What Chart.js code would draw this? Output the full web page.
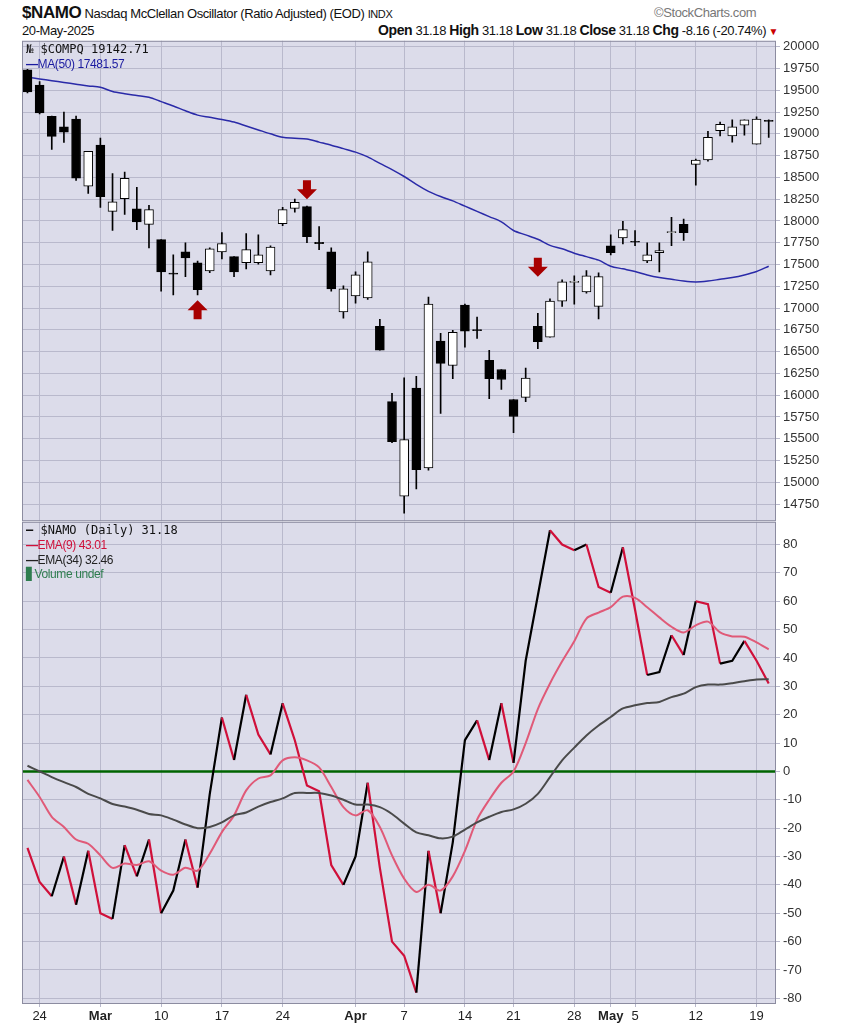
<!DOCTYPE html>
<html>
<head>
<meta charset="utf-8">
<script src="https://cdn.jsdelivr.net/npm/chart.js@4.4.0/dist/chart.umd.min.js"></script>
<style>
  body { margin: 0; background: #fff; width: 844px; height: 1024px; position: relative; overflow: hidden; font-family: "Liberation Sans", Arial, sans-serif; }
  .t { position: absolute; white-space: nowrap; color: #111; letter-spacing: -0.4px; }
  .mono { font-family: "DejaVu Sans Mono", monospace; font-size: 12px; letter-spacing: 0; }
  #c1 { position: absolute; left: 0; top: 30px; }
  #c2 { position: absolute; left: 0; top: 511px; }
</style>
</head>
<body>
<div class="t" style="left:22px;top:3px;font-size:13px;"><b style="font-size:17px;">$NAMO</b> Nasdaq McClellan Oscillator (Ratio Adjusted) (EOD) <span style="font-size:11px">INDX</span></div>
<div class="t" style="left:654px;top:5px;font-size:13px;color:#777;">&copy;StockCharts.com</div>
<div class="t" style="left:22px;top:23px;font-size:13px;">20-May-2025</div>
<div class="t" style="right:66px;top:22px;font-size:13px;"><b style="font-size:14px">Open</b> 31.18 <b style="font-size:14px">High</b> 31.18 <b style="font-size:14px">Low</b> 31.18 <b style="font-size:14px">Close</b> 31.18 <b style="font-size:14px">Chg</b> -8.16 (-20.74%)<span style="color:#c00;font-size:10px"> &#9660;</span></div>

<canvas id="c1" width="844" height="502"></canvas>
<canvas id="c2" width="844" height="513"></canvas>

<div class="t mono" style="left:26px;top:42px;">&#8470; $COMPQ 19142.71</div>
<div class="t" style="left:26px;top:57px;font-size:12px;color:#1a1aa0;"><b>&#8212;</b>MA(50) 17481.57</div>
<div class="t mono" style="left:26px;top:523px;"><b>&#8212;</b> $NAMO (Daily) 31.18</div>
<div class="t" style="left:26px;top:538px;font-size:12px;color:#d0103a;"><b>&#8212;</b>EMA(9) 43.01</div>
<div class="t" style="left:26px;top:553px;font-size:12px;color:#222;"><b>&#8212;</b>EMA(34) 32.46</div>
<div class="t" style="left:26px;top:567px;font-size:12px;color:#2e7d4f;">&#9611;Volume undef</div>

<script>
// trading days Feb 21 .. May 20 2025
const dates = ['Feb21','Feb24','Feb25','Feb26','Feb27','Feb28','Mar3','Mar4','Mar5','Mar6','Mar7',
  'Mar10','Mar11','Mar12','Mar13','Mar14','Mar17','Mar18','Mar19','Mar20','Mar21',
  'Mar24','Mar25','Mar26','Mar27','Mar28','Mar31','Apr1','Apr2','Apr3','Apr4',
  'Apr7','Apr8','Apr9','Apr10','Apr11','Apr14','Apr15','Apr16','Apr17',
  'Apr21','Apr22','Apr23','Apr24','Apr25','Apr28','Apr29','Apr30','May1','May2',
  'May5','May6','May7','May8','May9','May12','May13','May14','May15','May16','May19','May20'];

// $COMPQ candles
const openP  = [19735,19560,19200,19080,19170,18400,18870,18110,18255,18140,17960,17785,17400,17645,17520,17425,17645,17590,17520,17520,17425,17970,18145,18165,17755,17645,16955,17140,17115,16790,15925,14840,16080,15165,16620,16340,17035,16750,16400,16295,15950,15975,16790,16665,17080,17295,17185,17020,17715,17805,17765,17540,17635,17865,17960,18650,18700,19035,18975,19100,18880,19145];
const highP  = [19740,19600,19205,19250,19205,18800,18950,18545,18560,18385,18180,17785,17610,17750,17540,17690,17865,17590,17855,17840,17715,18155,18250,18170,17935,17690,17255,17415,17645,16870,16020,16200,16215,17125,16710,16745,17045,16895,16515,16295,15950,16310,16940,17105,17325,17370,17430,17405,17840,17995,17890,17750,17750,18040,18020,18710,19030,19135,19160,19160,19195,19160];
const lowP   = [19470,19230,18820,18900,18465,18315,18155,17890,18075,17900,17690,17195,17150,17360,17150,17405,17565,17360,17450,17505,17380,17945,18100,17750,17670,17195,16885,17055,17100,16515,15455,14645,14925,15140,15790,16190,16550,16650,15960,16065,15570,15925,16535,16665,17020,17045,17170,16875,17610,17735,17715,17520,17415,17715,17775,18410,18685,18975,18905,18985,18880,18960];
const closeP = [19480,19240,18970,19020,18490,18800,18280,18220,18490,17990,18130,17415,17390,17575,17210,17680,17740,17415,17670,17610,17700,18130,18215,17820,17740,17220,17220,17380,17530,16515,15465,15490,15145,17045,16365,16720,16735,16740,16190,16180,15755,16195,16615,17080,17300,17300,17370,17360,17635,17900,17755,17610,17660,17875,17865,18700,18960,19110,19080,19160,19170,19142.71];
const ma50 = [19650,19630,19610,19590,19570,19550,19535,19485,19460,19440,19420,19370,19320,19265,19215,19190,19165,19135,19090,19045,19000,18960,18950,18940,18905,18870,18830,18790,18735,18660,18590,18510,18420,18340,18280,18230,18170,18110,18050,17990,17890,17840,17790,17720,17680,17630,17590,17550,17480,17450,17420,17380,17350,17330,17310,17300,17310,17330,17350,17380,17420,17480];

// $NAMO and its EMAs
const namo = [-27,-39,-44,-30,-47,-28,-50,-52,-26,-37,-24,-50,-42,-24,-41,-8,19,4,27,13,6,24,11,-5,-7,-33,-40,-30,-4,-34,-60,-65,-78,-28,-50,-25,11,18,4,24,3,39,62,85,80,78,80,65,63,79,57,34,35,48,41,60,59,38,39,46,39,31];
const ema9 = [-3,-9,-16,-19.6,-24,-25.5,-29.6,-34,-32.5,-33,-31.7,-35,-36.4,-34,-35,-29,-21.4,-15.5,-6.7,-2.5,-1.4,3.9,5,3.9,1.4,-5.5,-12.6,-15.5,-13.7,-19.6,-29.6,-37.8,-42.5,-40,-42,-37,-28,-17,-10,-4,0,10,22,31,38.8,45.9,53.9,56,57.9,61.6,61.2,57.9,54.3,51,49,51.5,52.8,49,47.6,47.5,45.5,43];
const ema34 = [2,0,-2,-3.8,-5.5,-7.9,-9.5,-11.5,-12.4,-13.5,-15,-15.5,-17,-18.7,-20,-19.6,-18,-15.5,-14.5,-12.4,-10.8,-9.5,-7.6,-7.6,-7.6,-8.5,-10,-11.7,-11.7,-12.6,-15,-18.4,-21.5,-22.5,-23.6,-23,-20.5,-18,-16,-14.3,-13.4,-11.4,-7.9,-2,3.9,8.4,12.7,16.2,19.2,22.2,23.3,24.1,24.5,26.2,27.4,29.7,30.6,30.6,31.1,31.8,32.4,32.46];

// date axis labels: index -> text
const tickIdx  = [1,6,11,16,21,27,31,36,40,45,48,50,55,60];
const tickText = ['24','Mar','10','17','24','Apr','7','14','21','28','May','5','12','19'];
const boldTicks = ['Mar','Apr','May'];

// arrows: [index, value, direction]
const arrows = [[14,17090,'up'],[23,18250,'down'],[42,17360,'down']];

const BG = '#dcdcea';
const GRID = '#b9b9cc';
const RED = '#d0103a';

const bgPlugin = {
  id: 'bg',
  beforeDraw(chart) {
    const a = chart.chartArea, c = chart.ctx;
    c.save(); c.fillStyle = BG; c.fillRect(a.left, a.top, a.right - a.left, a.bottom - a.top); c.restore();
  },
  afterDraw(chart) {
    const a = chart.chartArea, c = chart.ctx;
    c.save(); c.strokeStyle = '#8c8ca0'; c.lineWidth = 1;
    c.strokeRect(a.left + 0.5, a.top + 0.5, a.right - a.left - 1, a.bottom - a.top - 1); c.restore();
  }
};

const arrowPlugin = {
  id: 'arrows',
  afterDatasetsDraw(chart) {
    const c = chart.ctx, xs = chart.scales.x, ys = chart.scales.y;
    c.save(); c.fillStyle = '#a80000';
    arrows.forEach(([i, v, d]) => {
      const x = xs.getPixelForValue(i), y = ys.getPixelForValue(v), s = d === 'up' ? 1 : -1;
      c.beginPath();
      c.moveTo(x, y);
      c.lineTo(x + 10, y + s * 10); c.lineTo(x + 4, y + s * 10); c.lineTo(x + 4, y + s * 19);
      c.lineTo(x - 4, y + s * 19); c.lineTo(x - 4, y + s * 10); c.lineTo(x - 10, y + s * 10);
      c.closePath(); c.fill();
    });
    c.restore();
  }
};

const zeroPlugin = {
  id: 'zero',
  beforeDatasetsDraw(chart) {
    const c = chart.ctx, a = chart.chartArea, y = chart.scales.y.getPixelForValue(0);
    c.save(); c.strokeStyle = '#006400'; c.lineWidth = 2.5;
    c.beginPath(); c.moveTo(a.left, y); c.lineTo(a.right, y); c.stroke(); c.restore();
  }
};

function xAxis(show) {
  return {
    type: 'linear', min: -0.45, max: 61.6, offset: false,
    afterBuildTicks: s => { s.ticks = tickIdx.map(v => ({ value: v })); },
    afterFit: s => { s.height = show ? 20 : 0; },
    ticks: {
      display: show, autoSkip: false, maxRotation: 0, color: '#222', padding: 2,
      font: ctx => {
        const lbl = ctx.tick ? tickText[tickIdx.indexOf(ctx.tick.value)] : '';
        return { family: 'Liberation Sans', size: 13, weight: boldTicks.includes(lbl) ? 'bold' : 'normal' };
      },
      callback: v => tickText[tickIdx.indexOf(v)]
    },
    grid: { color: GRID, drawTicks: show, tickLength: 3, offset: false },
    border: { display: false }
  };
}

function yAxis(min, max, step) {
  return {
    position: 'right', min: min, max: max,
    afterBuildTicks: s => {
      const t = [];
      for (let v = Math.ceil(min / step) * step; v <= max; v += step) t.push({ value: v });
      s.ticks = t;
    },
    afterFit: s => { s.width = 68; },
    ticks: { color: '#333', font: { family: 'Liberation Sans', size: 13 }, padding: 3, callback: v => String(v) },
    grid: { color: GRID, drawTicks: true, tickLength: 4 },
    border: { display: false }
  };
}

const wickData = dates.map((d, i) => ({ x: i, y: [lowP[i], highP[i]] }));
const bodyData = dates.map((d, i) => {
  let lo = Math.min(openP[i], closeP[i]), hi = Math.max(openP[i], closeP[i]);
  if (hi - lo < 12) { hi = lo + 12; }
  return { x: i, y: [lo, hi] };
});
const bodyColors = dates.map((d, i) => closeP[i] >= openP[i] ? '#ffffff' : '#000000');

new Chart(document.getElementById('c1'), {
  type: 'bar',
  data: {
    datasets: [
      { type: 'line', data: ma50.map((v, i) => ({ x: i, y: v })), borderColor: '#2a2aa8', borderWidth: 1.5, pointRadius: 0, tension: 0.3, order: 3 },
      { data: wickData, backgroundColor: '#000', barThickness: 1, grouped: false, order: 2 },
      { data: bodyData, backgroundColor: bodyColors, borderColor: '#000', borderWidth: 1, borderSkipped: false, barThickness: 9, grouped: false, order: 1 }
    ]
  },
  options: {
    responsive: false, animation: false,
    layout: { padding: { left: 22, top: 2, right: 0, bottom: 0 } },
    plugins: { legend: { display: false }, tooltip: { enabled: false } },
    scales: { x: xAxis(false), y: yAxis(14553, 20068, 250) }
  },
  plugins: [bgPlugin, arrowPlugin]
});

new Chart(document.getElementById('c2'), {
  type: 'line',
  data: {
    datasets: [
      { data: ema34.map((v, i) => ({ x: i, y: v })), borderColor: '#4a4a4a', borderWidth: 2, pointRadius: 0, tension: 0.3 },
      { data: ema9.map((v, i) => ({ x: i, y: v })), borderColor: '#e05a78', borderWidth: 2, pointRadius: 0, tension: 0.3 },
      { data: namo.map((v, i) => ({ x: i, y: v })), borderWidth: 2.2, pointRadius: 0, tension: 0,
        borderColor: '#000',
        segment: { borderColor: ctx => ctx.p1.parsed.y < ctx.p0.parsed.y ? RED : '#000' } }
    ]
  },
  options: {
    responsive: false, animation: false,
    layout: { padding: { left: 22, top: 0, right: 0, bottom: 0 } },
    plugins: { legend: { display: false }, tooltip: { enabled: false } },
    scales: { x: xAxis(true), y: yAxis(-82, 88, 10) }
  },
  plugins: [bgPlugin, zeroPlugin]
});
</script>
</body>
</html>
